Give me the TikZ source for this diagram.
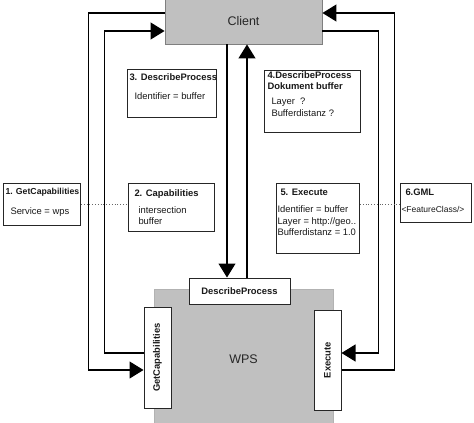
\documentclass[tikz,border=0pt]{standalone}
\usepackage{fontspec}
\setmainfont{Liberation Sans}
\usetikzlibrary{arrows.meta, positioning}

\definecolor{boxgray}{HTML}{C0C0C0}
\definecolor{edgegray}{HTML}{7F7F7F}

\tikzset{
  flow/.style={line width=1.1pt, -{Triangle[length=14pt,width=17pt]}},
  dots/.style={dotted, line width=0.8pt, black!60},
  msgbox/.style={draw=black!85, line width=1pt, fill=white, inner sep=0pt, anchor=north west,
    text=black!90, font=\fontsize{9.4}{11.5}\selectfont},
  opbox/.style={draw=black!85, line width=1pt, fill=white, inner sep=0pt,
    text=black!90, font=\fontsize{9.4}{11.5}\selectfont\bfseries},
  actor/.style={fill=boxgray, draw=edgegray, line width=0.9pt, text=black!85,
    font=\fontsize{12.5}{14}\selectfont}
}

\begin{document}
\begin{tikzpicture}[x=1pt,y=1pt]
    \useasboundingbox (0,0) rectangle (474,-423);

    % Client and WPS
    \node[actor, minimum width=157, minimum height=46] (client) at (243.5,-21) {Client};
    \node[actor, draw=edgegray!60, minimum width=179, minimum height=141] (wps) at (243.5,-359.5) {WPS};

    % Operations of the WPS
    \node[opbox, minimum width=101, minimum height=26] (dpop) at (239.5,-291) {DescribeProcess};
    \node[opbox, minimum width=27, minimum height=101] (gcop) at (157.5,-357.5) {\rotatebox{90}{GetCapabilities}};
    \node[opbox, minimum width=27, minimum height=100] (exop) at (327.5,-360) {\rotatebox{90}{Execute}};

    % Requests and responses
    \draw[flow] ([yshift=8]client.west) -- ++(-76,0) |- ([yshift=-12.5]gcop.west);
    \draw[flow] ([yshift=4.5]gcop.west) -- ++(-39,0) |- ([yshift=-10]client.west);
    \draw[flow] ([yshift=-10]client.east) -- ++(56,0) |- ([yshift=7]exop.east);
    \draw[flow] ([yshift=-10]exop.east) -- ++(53,0) |- ([yshift=8]client.east);
    \draw[flow] ([xshift=-16.5]client.south) -- ([xshift=-12.5]dpop.north);
    \draw[flow] ([xshift=7.5]dpop.north) -- ([xshift=3.5]client.south);

    % Messages
    \node[msgbox] (m1) at (3,-183) {\parbox[t][42pt][t]{77pt}{\vspace*{5pt}\hspace*{2pt}\mbox{\fontsize{8.7}{11.5}\selectfont\textbf{1. GetCapabilities}}\\[8.5pt]\hspace*{7pt}Service = wps}};
    \node[msgbox] (m2) at (128,-183) {\parbox[t][48pt][t]{86pt}{\vspace*{6pt}\hspace*{6pt}\mbox{\textbf{2. Capabilities}}\\[5.5pt]\hspace*{10pt}intersection\\\hspace*{10pt}buffer}};
    \node[msgbox] (m3) at (127,-69) {\parbox[t][48pt][t]{89pt}{\vspace*{4pt}\hspace*{2pt}\mbox{\textbf{3. DescribeProcess}}\\[7.5pt]\hspace*{7pt}Identifier = buffer}};
    \node[msgbox] (m4) at (264,-70) {\parbox[t][62pt][t]{96pt}{\vspace*{1pt}\hspace*{3pt}\mbox{\textbf{4.DescribeProcess}}\\\hspace*{3pt}\textbf{Dokument buffer}\\[3.5pt]\hspace*{7pt}Layer\ \ ?\\\hspace*{7pt}Bufferdistanz ?}};
    \node[msgbox] (m5) at (276,-183) {\parbox[t][70pt][t]{83pt}{\vspace*{6pt}\hspace*{4pt}\mbox{\textbf{5. Execute}}\\[5.5pt]\hspace*{1pt}Identifier = buffer\\\hspace*{1pt}\mbox{Layer = http://geo..}\\\hspace*{1pt}\mbox{Bufferdistanz = 1.0}}};
    \node[msgbox] (m6) at (400,-183) {\parbox[t][39pt][t]{71pt}{\vspace*{5pt}\hspace*{5pt}\mbox{\textbf{6.GML}}\\[5.5pt]\hspace*{1pt}\mbox{\fontsize{8.5}{10}\selectfont <FeatureClass/>}}};

    % Dotted links
    \draw[dots] (m1.east) -- (m2.west |- m1.east);
    \draw[dots] (m5.east |- m1.east) -- (m6.west |- m1.east);

\end{tikzpicture}
\end{document}
